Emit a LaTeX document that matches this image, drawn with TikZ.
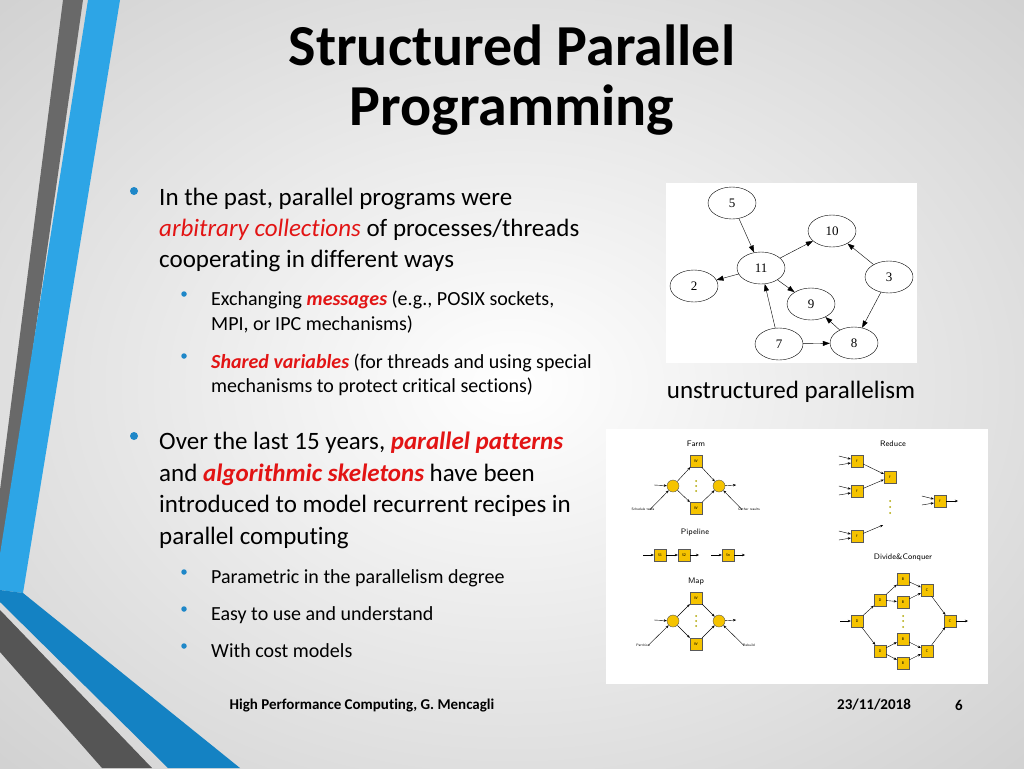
\documentclass[tikz,border=0pt]{standalone}
\usepackage{fontspec}
\setmainfont[Ligatures=NoCommon]{Carlito}
\newfontfamily\graphfont{Liberation Serif}
\usetikzlibrary{arrows.meta,shapes.geometric}
\definecolor{tred}{RGB}{226,20,20}
\definecolor{bblue}{RGB}{30,135,200}
\definecolor{lblue}{RGB}{45,165,230}
\definecolor{dblue}{RGB}{20,130,195}
\definecolor{dgray}{RGB}{85,85,85}
\definecolor{mgray}{RGB}{105,105,105}
\definecolor{pyel}{RGB}{245,195,0}
\tikzset{
 t1/.style={anchor=base west,font=\fontsize{25}{25}\selectfont,inner sep=0},
 t2/.style={anchor=base west,font=\fontsize{20}{20}\selectfont,inner sep=0},
 b1/.style={circle,fill=bblue,minimum size=8pt,inner sep=0},
 b2/.style={circle,fill=bblue,minimum size=5.5pt,inner sep=0},
 gn/.style={ellipse,draw,thin,minimum width=48pt,minimum height=32pt,inner sep=0,font=\graphfont\fontsize{13}{13}\selectfont},
 ge/.style={-{Triangle[length=7pt,width=5pt]},thin},
 pb/.style={rectangle,draw=gray!70!black,fill=pyel,minimum size=12pt,inner sep=0,font=\fontsize{4}{4}\selectfont},
 pc/.style={circle,draw=gray!70!black,fill=pyel,minimum size=12pt,inner sep=0},
 pe/.style={-{Stealth[length=3pt,width=2.5pt]},line width=0.4pt},
 pt/.style={font=\sffamily\fontsize{8}{8}\selectfont,inner sep=0},
 pl/.style={font=\sffamily\fontsize{3.5}{3.5}\selectfont,inner sep=0},
 pd/.style={circle,fill=olive!70!yellow,minimum size=2pt,inner sep=0},
}
\begin{document}
\begin{tikzpicture}[x=1pt,y=-1pt]
\useasboundingbox (0,0) rectangle (1024,768);
\shade[inner color=white,outer color=gray!35] (-200,-150) rectangle (1224,918);
\clip (0,0) rectangle (1024,768);
% left decoration
\fill[mgray] (63,0) -- (83,0) -- (0,578) -- (0,490) -- cycle;
\fill[lblue] (88,0) -- (120,0) -- (23,593) -- (0,590) -- (0,554) -- cycle;
\fill[dblue] (0,590) -- (23,593) -- (240,768) -- (168,768) -- (0,602) -- cycle;
\fill[dgray] (0,610) -- (152,768) -- (102,768) -- (0,652) -- cycle;
% title
\node[font=\bfseries\fontsize{58}{58}\selectfont] (title1) at (512,45) {Structured Parallel};
\node[font=\bfseries\fontsize{58}{58}\selectfont] (title2) at (512,110) {Programming};
% bullets
\node[b1] (d1) at (134,191) {};
\node[t1] (l1) at (159,205) {In the past, parallel programs were};
\node[t1] (l2) at (159,236) {\textcolor{tred}{\itshape arbitrary collections} of processes/threads};
\node[t1] (l3) at (159,267) {cooperating in different ways};
\node[b2] (d11) at (184,294) {};
\node[t2] (l4) at (211,305) {Exchanging \textcolor{tred}{\bfseries\itshape messages} (e.g., POSIX sockets,};
\node[t2] (l5) at (211,330) {MPI, or IPC mechanisms)};
\node[b2] (d12) at (184,356) {};
\node[t2] (l6) at (211,368) {\textcolor{tred}{\bfseries\itshape Shared variables} (for threads and using special};
\node[t2] (l7) at (211,392) {mechanisms to protect critical sections)};
\node[b1] (d2) at (134,436) {};
\node[t1] (m1) at (159,449) {Over the last 15 years, \textcolor{tred}{\bfseries\itshape parallel patterns}};
\node[t1] (m2) at (159,481) {and \textcolor{tred}{\bfseries\itshape algorithmic skeletons} have been};
\node[t1] (m3) at (159,512) {introduced to model recurrent recipes in};
\node[t1] (m4) at (159,544) {parallel computing};
\node[b2] (d21) at (184,572) {};
\node[t2] (m5) at (211,583) {Parametric in the parallelism degree};
\node[b2] (d22) at (184,609) {};
\node[t2] (m6) at (211,620) {Easy to use and understand};
\node[b2] (d23) at (184,646) {};
\node[t2] (m7) at (211,657) {With cost models};
% footer
\node[font=\bfseries\fontsize{15}{15}\selectfont,inner sep=0] (f1) at (362,705) {High Performance Computing, G. Mencagli};
\node[font=\bfseries\fontsize{15}{15}\selectfont,inner sep=0] (f2) at (874,705) {23/11/2018};
\node[font=\bfseries\fontsize{15}{15}\selectfont,inner sep=0] (f3) at (959,705) {6};
% graph
\fill[white] (666,183) rectangle (917,363);
\node[gn] (n5) at (732,203) {5};
\node[gn] (n10) at (832,231) {10};
\node[gn] (n11) at (761,268) {11};
\node[gn] (n2) at (694,286) {2};
\node[gn] (n3) at (889,277) {3};
\node[gn] (n9) at (811,304) {9};
\node[gn] (n7) at (779,344) {7};
\node[gn] (n8) at (854,343) {8};
\draw[ge] (n5)--(n11); \draw[ge] (n11)--(n10); \draw[ge] (n11)--(n2);
\draw[ge] (n11)--(n9); \draw[ge] (n3)--(n10); \draw[ge] (n3)--(n8);
\draw[ge] (n7)--(n11); \draw[ge] (n7)--(n8); \draw[ge] (n8)--(n9);
\node[font=\fontsize{25}{25}\selectfont] (cap) at (791,392) {unstructured parallelism};
% patterns
\fill[white] (606,429) rectangle (988,684);
\node[pt] (tf) at (696,444) {Farm};
\node[pb] (fw1) at (696,461) {W};
\node[pb] (fw2) at (696,508) {W};
\node[pc] (fc1) at (673,486) {};
\node[pc] (fc2) at (719,486) {};
\node[pd] (fd1) at (696,481) {};\node[pd] (fd2) at (696,486) {};\node[pd] (fd3) at (696,491) {};
\coordinate (fi) at (654,485); \coordinate (fo) at (736,485);
\draw[pe] (fi)--(fc1); \draw[pe] (fc1)--(fw1); \draw[pe] (fc1)--(fw2);
\draw[pe] (fw1)--(fc2); \draw[pe] (fw2)--(fc2); \draw[pe] (fc2)--(fo);
\node[pl] (fl1) at (643,509) {Schedule tasks};
\node[pl] (fl2) at (749,509) {Gather results};
\draw[pe] ([xshift=7pt,yshift=-2pt]fl1.north) coordinate (fa1) -- (fc1);
\draw[pe] ([xshift=-7pt,yshift=-2pt]fl2.north) coordinate (fa2) -- (fc2);
\node[pt] (tp) at (695,532) {Pipeline};
\node[pb] (s1) at (660,555) {S1};
\node[pb] (s2) at (684,555) {S2};
\node[pb] (sn) at (728,555) {Sn};
\coordinate (pi) at (643,555); \coordinate (po) at (699,555);
\coordinate (pi2) at (711,555); \coordinate (po2) at (745,555);
\draw[pe] (pi)--(s1); \draw[pe] (s1)--(s2); \draw[pe] (s2)--(po);
\draw[pe] (pi2)--(sn); \draw[pe] (sn)--(po2);
\node[pt] (tm) at (696,581) {Map};
\node[pb] (mw1) at (696,598) {W};
\node[pb] (mw2) at (696,644) {W};
\node[pc] (mc1) at (673,621) {};
\node[pc] (mc2) at (719,621) {};
\node[pd] (md1) at (696,616) {};\node[pd] (md2) at (696,621) {};\node[pd] (md3) at (696,626) {};
\coordinate (mi) at (654,620); \coordinate (mo) at (736,620);
\draw[pe] (mi)--(mc1); \draw[pe] (mc1)--(mw1); \draw[pe] (mc1)--(mw2);
\draw[pe] (mw1)--(mc2); \draw[pe] (mw2)--(mc2); \draw[pe] (mc2)--(mo);
\node[pl] (ml1) at (643,645) {Partition};
\node[pl] (ml2) at (749,645) {Rebuild};
\draw[pe] ([xshift=5pt,yshift=-2pt]ml1.north) coordinate (ma1) -- (mc1);
\draw[pe] ([xshift=-5pt,yshift=-2pt]ml2.north) coordinate (ma2) -- (mc2);
\node[pt] (tr) at (893,444) {Reduce};
\node[pb] (r1) at (857,461) {f};
\node[pb] (r2) at (890,477) {f};
\node[pb] (r3) at (857,491) {f};
\node[pb] (r4) at (857,536) {f};
\node[pb] (r5) at (940,501) {f};
\node[pd] (rd1) at (890,501) {};\node[pd] (rd2) at (890,507) {};\node[pd] (rd3) at (890,513) {};
\draw[pe] (r1)--(r2); \draw[pe] (r3)--(r2);
\coordinate (r4o) at (883,525); \draw[pe] (r4)--(r4o);
\coordinate (r5o) at (958,501); \draw[pe] (r5)--(r5o);
\foreach \r in {r1,r3,r4,r5}{
 \draw[pe] ([xshift=-12pt,yshift=-4pt]\r.west) coordinate (\r p) -- ([yshift=-2pt]\r.west);
 \draw[pe] ([xshift=-12pt,yshift=5pt]\r.west) coordinate (\r q) -- ([yshift=2pt]\r.west);
}
\node[pt] (td) at (903,557) {Divide\&Conquer};
\node[pb] (dd0) at (857,621) {D};
\node[pb] (dd1) at (880,600) {D};
\node[pb] (dd2) at (880,651) {D};
\node[pb] (db1) at (903,579) {B};
\node[pb] (db2) at (903,602) {B};
\node[pb] (db3) at (903,639) {B};
\node[pb] (db4) at (903,663) {B};
\node[pb] (dc1) at (927,590) {C};
\node[pb] (dc2) at (927,651) {C};
\node[pb] (dc0) at (950,621) {C};
\node[pd] (dd5) at (903,616) {};\node[pd] (dd6) at (903,621) {};\node[pd] (dd7) at (903,627) {};
\coordinate (di) at (840,621); \coordinate (do) at (968,621);
\draw[pe] (di)--(dd0); \draw[pe] (dd0)--(dd1); \draw[pe] (dd0)--(dd2);
\draw[pe] (dd1)--(db1); \draw[pe] (dd1)--(db2); \draw[pe] (dd2)--(db3); \draw[pe] (dd2)--(db4);
\draw[pe] (db1)--(dc1); \draw[pe] (db2)--(dc1); \draw[pe] (db3)--(dc2); \draw[pe] (db4)--(dc2);
\draw[pe] (dc1)--(dc0); \draw[pe] (dc2)--(dc0); \draw[pe] (dc0)--(do);
\end{tikzpicture}
\end{document}
